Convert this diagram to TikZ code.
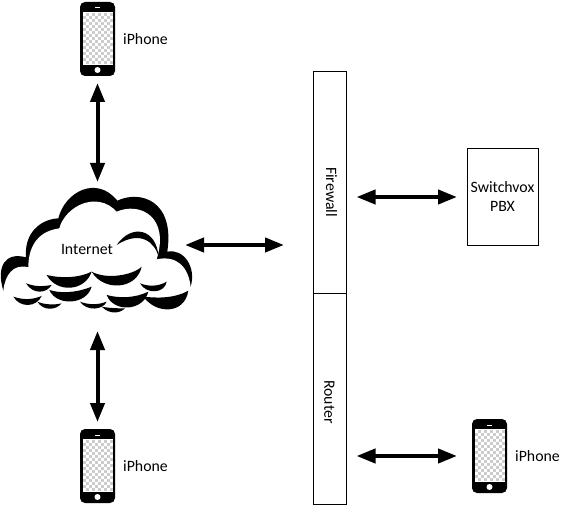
\documentclass[tikz,border=0pt]{standalone}
\usepackage{fontspec}
\setmainfont{Carlito}
\usetikzlibrary{arrows.meta}
\newcommand{\crescent}[6]{\fill (#1) .. controls (#2) and (#3) .. (#4) .. controls (#5) and (#6) .. (#1);}
\tikzset{
  pics/phone/.style={code={
    \fill[black, rounded corners=5pt] (-17.5,-37) rectangle (17.5,37);
    \fill[white] (-15,-27) rectangle (15,26);
    \foreach \i in {0,...,9}{
      \foreach \j in {0,...,16}{
        \ifodd\numexpr\i+\j\relax
          \fill[black!20] (-15+3*\i,-26+3*\j) rectangle ++(3,3);
        \fi
      }
    }
    \fill[white] (0,31) circle (3);
    \fill[white] (-2.5,-31.5) rectangle (2.5,-30.5);
  }},
  phonebox/.style={minimum width=35pt, minimum height=74pt, inner sep=0pt, outer sep=0pt},
  wallbox/.style={draw=black, line width=1pt, minimum width=33pt, inner sep=0pt, outer sep=0pt},
  biarrow/.style={line width=4pt, {Triangle[length=19pt,width=14pt]}-{Triangle[length=19pt,width=14pt]}}
}
\begin{document}
\begin{tikzpicture}[x=1pt, y=-1pt, font=\fontsize{15.8}{19}\selectfont]
  \useasboundingbox (0,0) rectangle (562,505);
  \node[phonebox] (phonetop) at (97.5,39) {};
  \pic at (phonetop) {phone};
  \node[right=8pt, inner sep=0pt] (labeltop) at (phonetop.east) {iPhone};
  \node[phonebox] (phonebottom) at (97.5,466) {};
  \pic at (phonebottom) {phone};
  \node[right=8pt, inner sep=0pt] (labelbottom) at (phonebottom.east) {iPhone};
  \node[phonebox] (phoneright) at (489.5,456) {};
  \pic at (phoneright) {phone};
  \node[right=8pt, inner sep=0pt] (labelright) at (phoneright.east) {iPhone};

  \node[minimum width=190pt, minimum height=124pt, inner sep=0pt, outer sep=0pt] (cloud) at (96,249) {};
  \begin{scope}[shift={(0,170)}, x=0.3333pt, y=0.3333pt, yscale=-1]
    \fill[black] (10,362) .. controls (-12,290) and (15,245) .. (78,262)
      .. controls (72,190) and (120,148) .. (175,145)
      .. controls (195,65) and (290,15) .. (352,92)
      .. controls (420,60) and (525,90) .. (502,245)
      .. controls (550,235) and (590,290) .. (572,350) -- cycle;
    \fill[white] (10,362) .. controls (15,315) and (40,280) .. (85,292)
      .. controls (85,240) and (105,185) .. (178,175)
      .. controls (195,110) and (290,60) .. (350,125)
      .. controls (420,95) and (510,140) .. (470,268)
      .. controls (530,255) and (565,290) .. (572,350) -- (300,440) -- cycle;
    \crescent{350,225}{395,160}{470,175}{476,262}{465,215}{420,180}
    \crescent{140,315}{170,370}{255,365}{275,305}{235,325}{180,325}
    \crescent{275,305}{310,365}{410,360}{425,290}{400,315}{320,330}
    \crescent{78,340}{100,375}{140,370}{155,345}{125,350}{105,350}
    \crescent{148,360}{170,410}{260,405}{275,350}{225,370}{180,370}
    \crescent{40,380}{60,415}{110,412}{125,378}{95,390}{70,390}
    \crescent{112,395}{130,425}{170,420}{185,400}{165,405}{135,405}
    \crescent{240,395}{260,425}{310,420}{320,395}{295,405}{265,405}
    \crescent{320,375}{340,428}{430,425}{445,365}{405,385}{355,385}
    \crescent{305,410}{330,435}{360,430}{375,415}{355,415}{330,415}
    \crescent{420,340}{440,375}{495,370}{500,335}{475,350}{445,350}
    \crescent{430,380}{470,435}{555,432}{565,362}{525,385}{475,385}
  \end{scope}
  \node[inner sep=0pt] (internet) at (87,249) {Internet};

  \node[wallbox, minimum height=221pt] (firewall) at (329.5,182.5) {};
  \node[rotate=-90, inner sep=0pt] (firewalltext) at (331.5,192) {Firewall};
  \node[wallbox, minimum height=211pt] (router) at (329.5,398.5) {};
  \node[rotate=-90, inner sep=0pt] (routertext) at (329.5,402) {Router};
  \node[draw=black, line width=1pt, minimum width=71pt, minimum height=96pt, align=center, inner sep=0pt, outer sep=0pt] (pbx) at (502.5,197) {Switchvox\\PBX};
  \coordinate (gapend) at (284,245);

  \draw[biarrow, shorten <=7pt, shorten >=5pt] (phonetop) -- (phonetop |- cloud.north);
  \draw[biarrow, shorten <=20pt, shorten >=7pt] (phonebottom |- cloud.south) -- (phonebottom);
  \draw[biarrow, shorten <=-6pt] (cloud.east |- gapend) -- (gapend);
  \draw[biarrow, shorten <=10.5pt, shorten >=10pt] (firewall.east |- pbx) -- (pbx);
  \draw[biarrow, shorten <=10.5pt, shorten >=15pt] (router.east |- phoneright) -- (phoneright);
\end{tikzpicture}
\end{document}
